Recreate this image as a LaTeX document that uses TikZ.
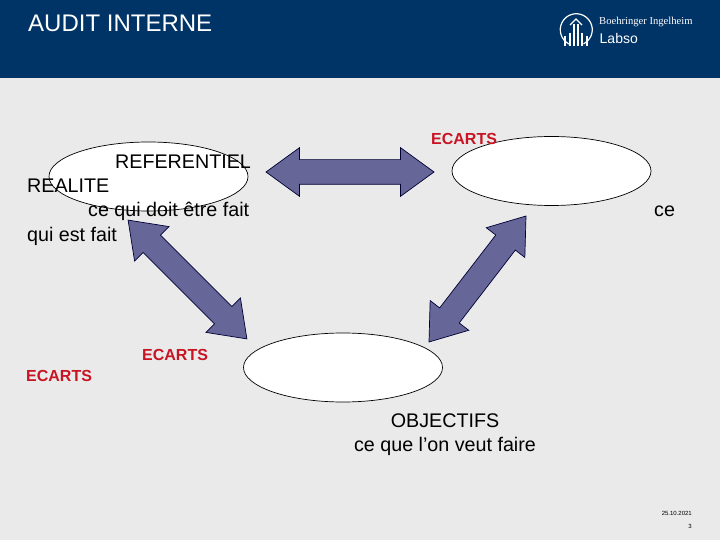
\documentclass[tikz,border=0pt]{standalone}
\usepackage{fontspec}
\setmainfont{Liberation Sans}
\newfontfamily\logofont{Liberation Serif}
\usetikzlibrary{positioning,shapes}

\definecolor{bandblue}{RGB}{0,51,102}
\definecolor{slidegrey}{RGB}{234,234,234}
\definecolor{arrowblue}{RGB}{102,102,153}
\definecolor{gapred}{RGB}{200,20,35}

\begin{document}
\begin{tikzpicture}[
		x=1pt, y=-1pt,
		oval/.style={ellipse, draw=black, fill=white, line width=0.7pt, inner sep=0pt, minimum width=199pt, minimum height=69pt},
		link/.style={double arrow, draw=black!80!blue, fill=arrowblue, line width=0.7pt, inner xsep=0pt, inner ysep=12pt, minimum width=48pt, minimum height=168pt, double arrow head extend=12pt, double arrow tip angle=72},
		word/.style={anchor=base west, inner sep=0pt, font=\fontsize{19.7}{24}\selectfont, text=black},
		gap/.style={anchor=base west, inner sep=0pt, font=\fontsize{16}{19}\selectfont\bfseries, text=gapred},
		small/.style={anchor=base east, inner sep=0pt, font=\fontsize{6}{7}\selectfont, text=black},
		logoline/.style={white, line width=1.2pt},
		]
		\useasboundingbox (0,0) rectangle (720,540);

		%Background
		\fill[slidegrey] (0,0) rectangle (720,540);
		\fill[bandblue] (0,0) rectangle (720,78);
		\node[anchor=base west, inner sep=0pt, text=white, font=\fontsize{24}{28}\selectfont] (title) at (28,32) {AUDIT INTERNE};

		%Logo
		\draw[logoline] (569,44) arc (117:423:16);
		\foreach \xpos/\ytop in {565/36, 570/33, 574/24, 578/24, 582/33, 587/36} {
			\draw[logoline] (\xpos,\ytop) -- (\xpos,46);
		}
		\draw[logoline] (570,25) -- (576,19) -- (582,25);
		\node[anchor=base west, inner sep=0pt, text=white, font=\fontsize{10.6}{13}\logofont] (logo_name) at (599,25) {Boehringer Ingelheim};
		\node[anchor=base west, inner sep=0pt, text=white, font=\fontsize{14}{17}\selectfont] (logo_site) at (599.5,44) {Labso};

		%Main Nodes
		\node[oval]	(ell_ref)	at (148.5,176.5)	{};
		\node[oval]	(ell_real)	at (551.5,171)		{};
		\node[oval]	(ell_obj)	at (343,367.5)		{};

		%Arrows
		\node[link]						(ref_real)	at (350,172)		{};
		\node[link, rotate=-45]			(ref_obj)	at (187.5,279.5)	{};
		\node[link, rotate=52.4, minimum height=159pt]	(real_obj)	at (477.5,279)		{};

		%Texts
		\node[word]	(ref_1)		at (115,169)	{REFERENTIEL};
		\node[word]	(real_1)	at (27,193)		{REALITE};
		\node[word]	(ref_2)		at (88,217)		{ce qui doit être fait};
		\node[word]	(real_2)	at (27,241)		{qui est fait};
		\node[word]	(real_3)	at (654,217)	{ce};
		\node[word, anchor=north, align=center]	(obj_1)	[below=11pt of ell_obj, xshift=102pt]	{OBJECTIFS\\ce que l’on veut faire};

		%Gaps
		\node[gap]	(gap_1)	at (431,145)	{ECARTS};
		\node[gap]	(gap_2)	at (142,360)	{ECARTS};
		\node[gap]	(gap_3)	at (26,381)		{ECARTS};

		%Footer
		\node[small]	(date)	at (692,515)	{25.10.2021};
		\node[small]	(page)	at (692,528)	{3};

	\end{tikzpicture}
\end{document}
